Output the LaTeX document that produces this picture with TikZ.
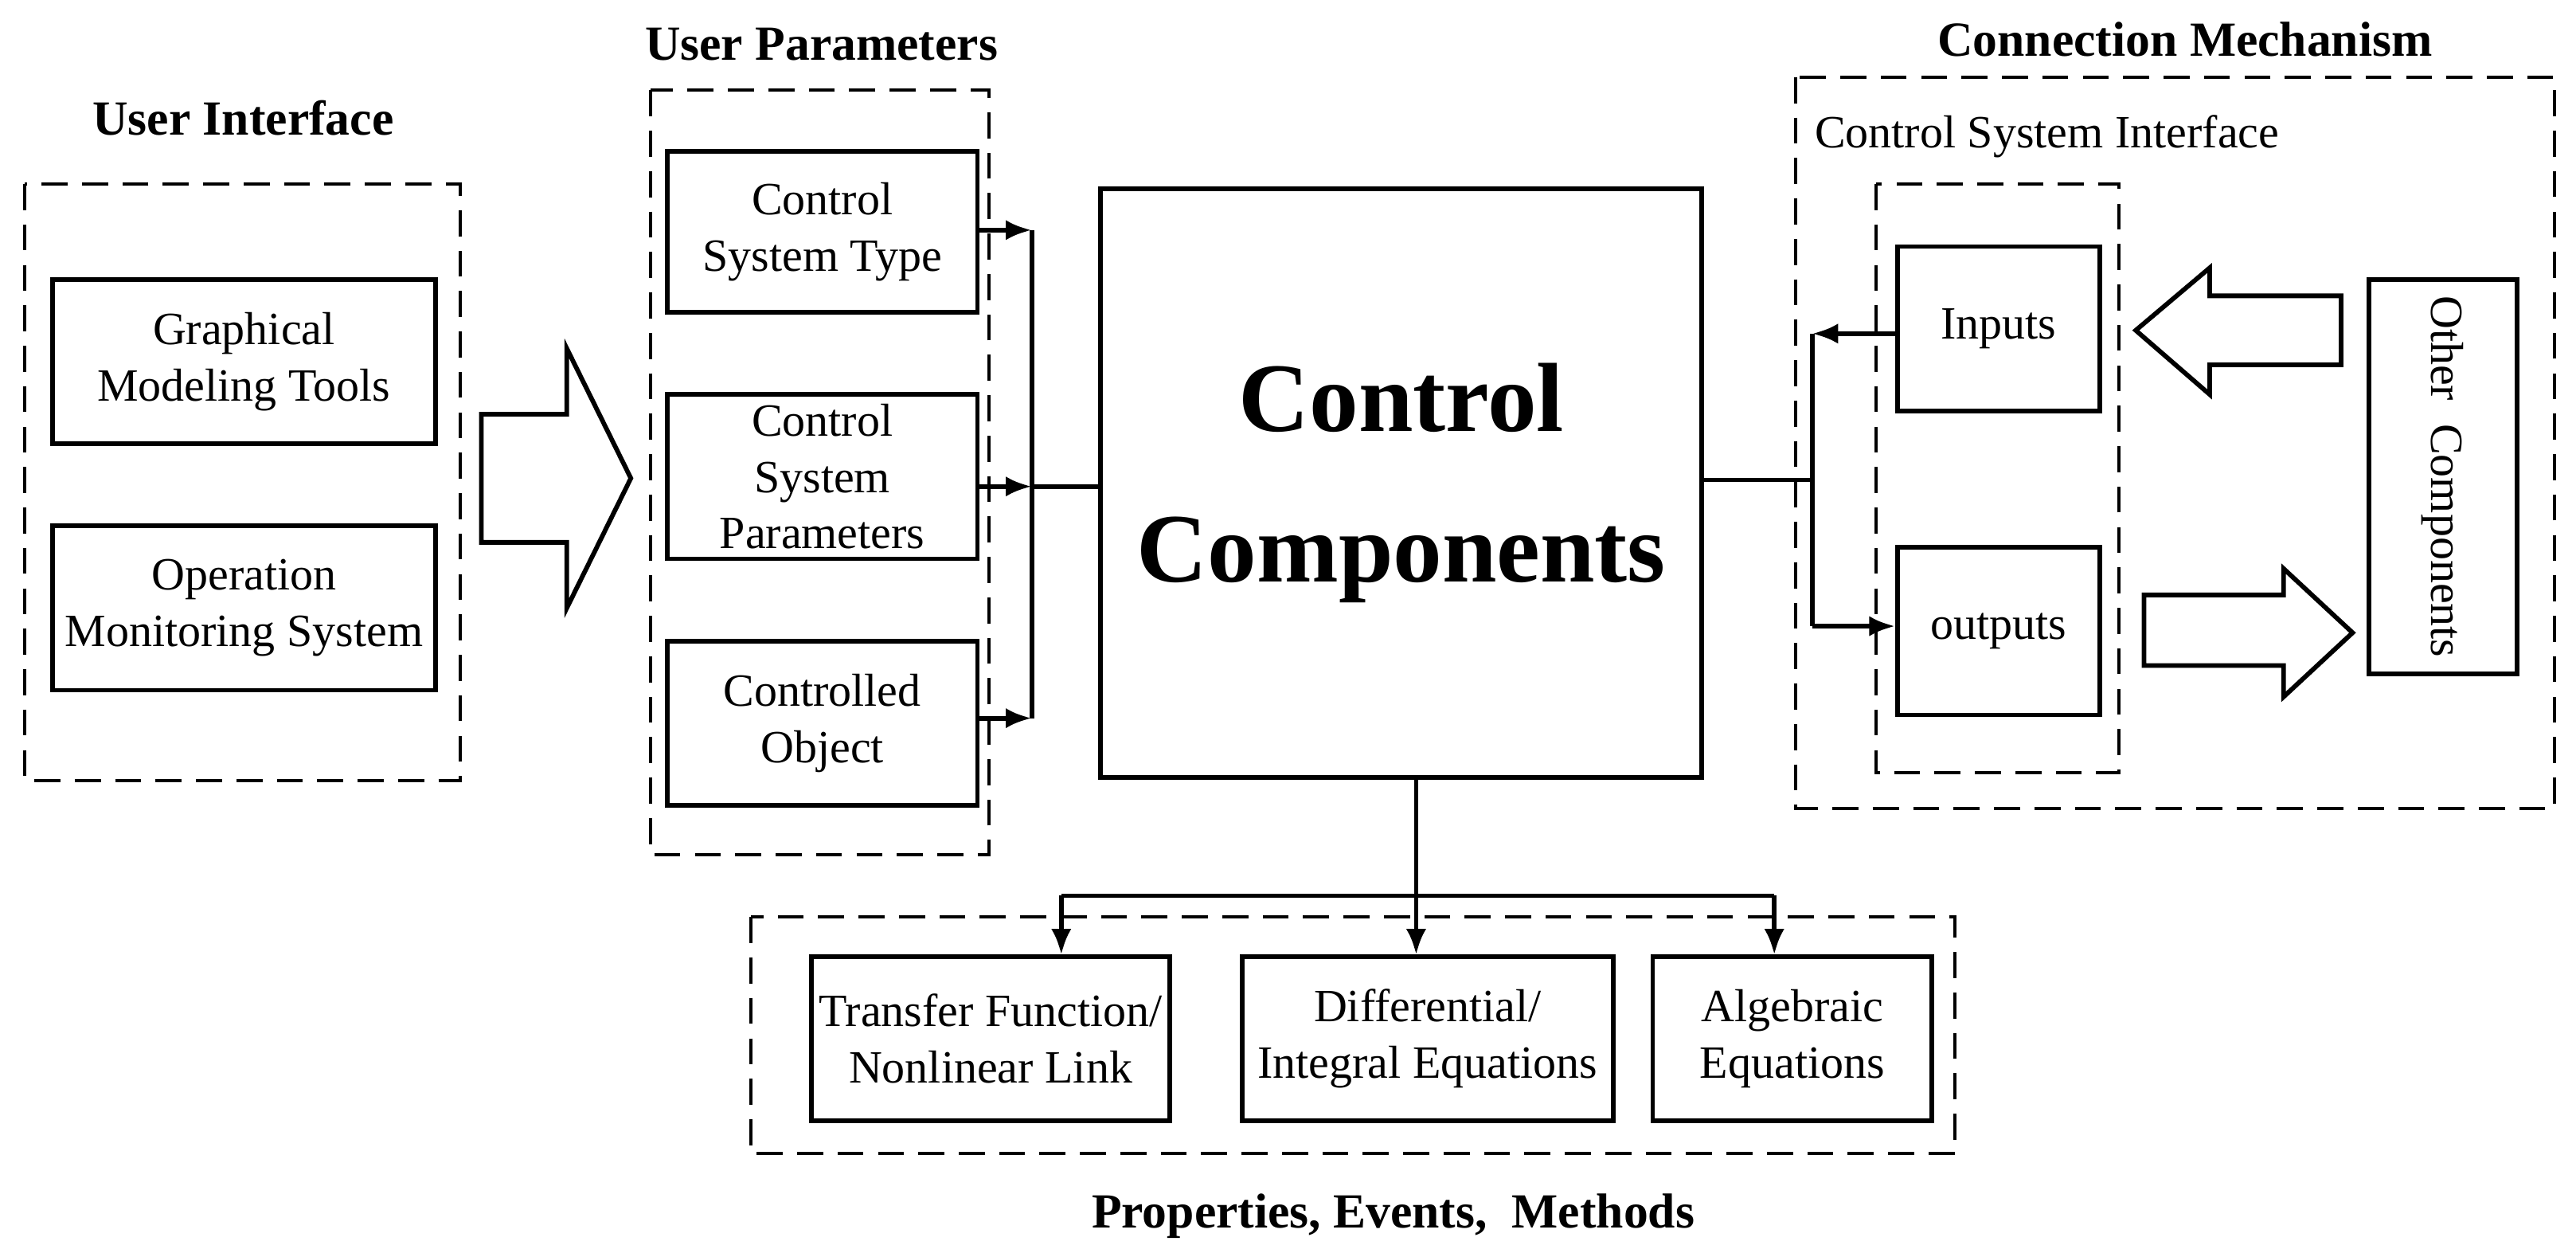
\documentclass[tikz,border=0pt]{standalone}
\usepackage{fontspec}
\setmainfont{Liberation Serif}
\usetikzlibrary{arrows.meta}
\begin{document}
\begin{tikzpicture}[x=0.02cm,y=-0.02cm,
 box/.style={draw,line width=1.6pt,align=center,inner sep=0pt,font=\fontsize{16}{19.5}\selectfont},
 dbox/.style={draw,dash pattern=on 9pt off 5pt,line width=1.1pt},
 ttl/.style={font=\fontsize{17}{20}\selectfont\bfseries},
 ln/.style={line width=1.6pt},
 arr/.style={ln,-{Latex[length=9pt,width=7pt]}},
 hol/.style={draw,line width=1.6pt,fill=white}]
\useasboundingbox (0,0) rectangle (1568,762);
% User Interface
\draw[dbox] (15,112) rectangle (280,475);
\node[ttl] (tui) at (148,72) {User Interface};
\node[box,minimum width=4.66cm,minimum height=2cm] (gmt) at (148.5,220) {Graphical\\Modeling Tools};
\node[box,minimum width=4.66cm,minimum height=2cm] (oms) at (148.5,370) {Operation\\Monitoring System};
\draw[hol] (293,252) -- (345,252) -- (345,212) -- (384,291) -- (345,370) -- (345,330) -- (293,330) -- cycle;
% User Parameters
\draw[dbox] (396,55) rectangle (602,520);
\node[ttl] (tup) at (500,27) {User Parameters};
\node[box,minimum width=3.78cm,minimum height=1.96cm] (cst) at (500.5,141) {Control\\System Type};
\node[box,minimum width=3.78cm,minimum height=2cm] (csp) at (500.5,290) {Control\\System\\Parameters};
\node[box,minimum width=3.78cm,minimum height=2cm] (co) at (500.5,440) {Controlled\\Object};
\coordinate (b1) at (628,140); \coordinate (b2) at (628,296); \coordinate (b3) at (628,437);
\draw[ln] (b1) -- (b3);
\draw[arr] (cst.east|-b1) -- (b1);
\draw[arr] (csp.east|-b2) -- (b2);
\draw[arr] (co.east|-b3) -- (b3);
% Control
\node[box,minimum width=7.32cm,minimum height=7.16cm,font=\fontsize{34}{52}\selectfont\bfseries] (cc) at (853,294) {Control\\Components};
\draw[ln] (b2) -- (cc.west|-b2);
% Connection Mechanism
\draw[dbox] (1093,47) rectangle (1555,492);
\node[ttl] (tcm) at (1330,24) {Connection Mechanism};
\node[font=\fontsize{16}{19}\selectfont] (csi) at (1246,83) {Control System Interface};
\draw[dbox] (1142,112) rectangle (1290,470);
\node[box,minimum width=2.46cm,minimum height=2cm] (in) at (1216.5,200) {Inputs};
\node[box,minimum width=2.46cm,minimum height=2.04cm] (out) at (1216.5,384) {outputs};
\node[box,minimum width=1.8cm,minimum height=4.8cm] (oc) at (1487,290) {};
\node[rotate=-90,font=\fontsize{16}{19}\selectfont] at (oc.center) {Other\ \ Components};
\coordinate (r0) at (1103,292); \coordinate (r1) at (1103,203); \coordinate (r2) at (1103,381);
\draw[ln] (cc.east|-r0) -- (r0);
\draw[ln] (r1) -- (r2);
\draw[arr] (in.west|-r1) -- (r1);
\draw[arr] (r2) -- (out.west|-r2);
\draw[hol] (1425,180) -- (1345,180) -- (1345,163) -- (1300,201) -- (1345,240) -- (1345,222) -- (1425,222) -- cycle;
\draw[hol] (1305,362) -- (1390,362) -- (1390,346) -- (1432,385) -- (1390,424) -- (1390,405) -- (1305,405) -- cycle;
% Bottom
\draw[dbox] (457,558) rectangle (1190,702);
\node[box,minimum width=4.36cm,minimum height=2cm] (tf) at (603,632) {Transfer Function/\\Nonlinear Link};
\node[box,minimum width=4.52cm,minimum height=2cm] (de) at (869,632) {Differential/\\Integral Equations};
\node[box,minimum width=3.4cm,minimum height=2cm] (ae) at (1091,632) {Algebraic\\Equations};
\node[ttl] (tpe) at (848,740) {Properties, Events,\ \ Methods};
\coordinate (d0) at (862,545); \coordinate (dl) at (646,545); \coordinate (dr) at (1080,545);
\draw[ln] (cc.south-|d0) -- (d0);
\draw[ln] (dl) -- (dr);
\draw[arr] (dl) -- (646,581);
\draw[arr] (d0) -- (862,581);
\draw[arr] (dr) -- (1080,581);
\end{tikzpicture}
\end{document}
